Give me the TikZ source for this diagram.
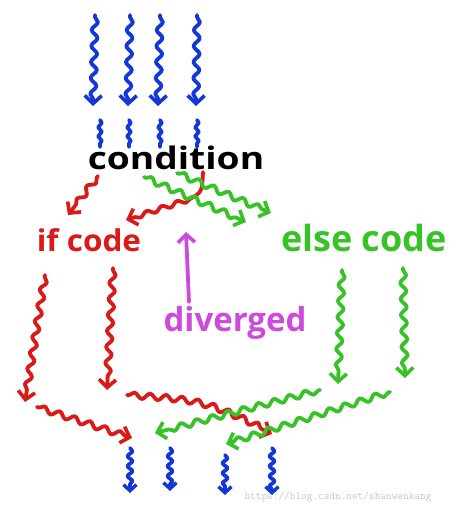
\documentclass[tikz,border=0pt]{standalone}
\usepackage{fontspec}
\setmainfont{Open Sans}
\usetikzlibrary{decorations.pathmorphing,arrows.meta}
\definecolor{mblue}{RGB}{20,55,215}
\definecolor{mred}{RGB}{218,25,25}
\definecolor{mgreen}{RGB}{55,195,40}
\definecolor{mmag}{RGB}{205,75,220}
\tikzset{
  pen/.style={line width=3.8pt,line cap=round,line join=round},
  wig/.style={pen,decorate,decoration={snake,amplitude=3pt,segment length=16pt,pre length=2pt,post length=7pt}},
  tip/.style={-{Straight Barb[length=8pt,width=17pt,line width=3.6pt]}},
  bluew/.style={wig,mblue},
  redw/.style={wig,mred},
  greenw/.style={wig,mgreen},
  lbl/.style={inner sep=0pt},
}
\begin{document}
\begin{tikzpicture}[x=1pt,y=-1pt]
\useasboundingbox[fill=white] (0,0) rectangle (474,512);
% top blue arrows
\foreach \i/\x/\xx in {1/95/93,2/130/128,3/160/158,4/197/196}{
  \coordinate (t\i) at (\x,15);
  \coordinate (h\i) at (\xx,106);
  \draw[bluew,tip] (t\i) -- (h\i);
}
% short blue segments
\foreach \i/\x in {1/100,2/129,3/160,4/197}{
  \coordinate (s\i) at (\x,120);
  \coordinate (e\i) at (\x,147);
  \draw[pen,mblue,decorate,decoration={snake,amplitude=1.8pt,segment length=9pt}] (s\i) -- (e\i);
}
\node[lbl,font=\bfseries\fontsize{31}{31}\selectfont,xscale=1.2] (cond) at (176,158) {condition};
% red from condition
\coordinate (r1a) at (98,176);
\coordinate (r1b) at (68,215);
\draw[redw,tip] (r1a) -- (r1b);
\coordinate (r2a) at (203,172);
\coordinate (r2m) at (190,199);
\coordinate (r2b) at (126,220);
\draw[pen,mred,tip] (r2a) .. controls (202,192) .. (r2m) decorate[decoration={snake,amplitude=2.2pt,segment length=16pt,post length=7pt}]{ -- (r2b)};
% green from condition
\coordinate (g1a) at (144,177);
\coordinate (g1b) at (246,222);
\draw[greenw,tip] (g1a) -- (g1b);
\coordinate (g2a) at (177,173);
\coordinate (g2b) at (271,213);
\draw[greenw,tip] (g2a) -- (g2b);
% labels
\node[lbl,mred,font=\bfseries\fontsize{30}{30}\selectfont,xscale=1.05] (ifc) at (89,240) {if code};
\node[lbl,mgreen,font=\bfseries\fontsize{36}{36}\selectfont] (elc) at (364,238) {else code};
% diverged
\coordinate (m1) at (189,302);
\coordinate (m2) at (186,232);
\draw[pen,mmag,tip] (m1) -- (m2);
\node[lbl,mmag,font=\bfseries\fontsize{33}{33}\selectfont] (div) at (235,323) {diverged};
% red verticals
\coordinate (rv1a) at (45,275);
\coordinate (rv1b) at (25,402);
\draw[redw,tip] (rv1a) -- (rv1b);
\coordinate (rv2a) at (113,268);
\coordinate (rv2b) at (107,390);
\draw[redw,tip] (rv2a) -- (rv2b);
% green verticals
\coordinate (gv1a) at (342,270);
\coordinate (gv1b) at (338,384);
\draw[greenw,tip] (gv1a) -- (gv1b);
\coordinate (gv2a) at (403,268);
\coordinate (gv2b) at (405,378);
\draw[greenw,tip] (gv2a) -- (gv2b);
% converging red
\coordinate (cr1a) at (37,407);
\coordinate (cr1b) at (132,438);
\draw[redw,tip] (cr1a) -- (cr1b);
\coordinate (cr2a) at (127,395);
\coordinate (cr2b) at (272,434);
\draw[redw,tip] (cr2a) .. controls (200,400) .. (cr2b);
% converging green
\coordinate (cg1a) at (320,390);
\coordinate (cg1b) at (155,433);
\draw[greenw,tip] (cg1a) -- (cg1b);
\coordinate (cg2a) at (390,392);
\coordinate (cg2b) at (226,444);
\draw[greenw,tip] (cg2a) -- (cg2b);
% bottom blue
\foreach \i/\x/\ya/\yb in {1/130/448/493,2/170/448/491,3/225/455/495,4/272/448/495}{
  \coordinate (ba\i) at (\x,\ya);
  \coordinate (bb\i) at (\x,\yb);
  \draw[pen,mblue,decorate,decoration={snake,amplitude=2.4pt,segment length=10pt,post length=5pt},-{Straight Barb[length=6pt,width=13pt,line width=3.4pt]}] (ba\i) -- (bb\i);
}
% watermark
\node[lbl,text=black!22,font=\ttfamily\fontsize{11}{11}\selectfont] (wm) at (338,497) {https://blog.csdn.net/shanwenkang};
\end{tikzpicture}
\end{document}
